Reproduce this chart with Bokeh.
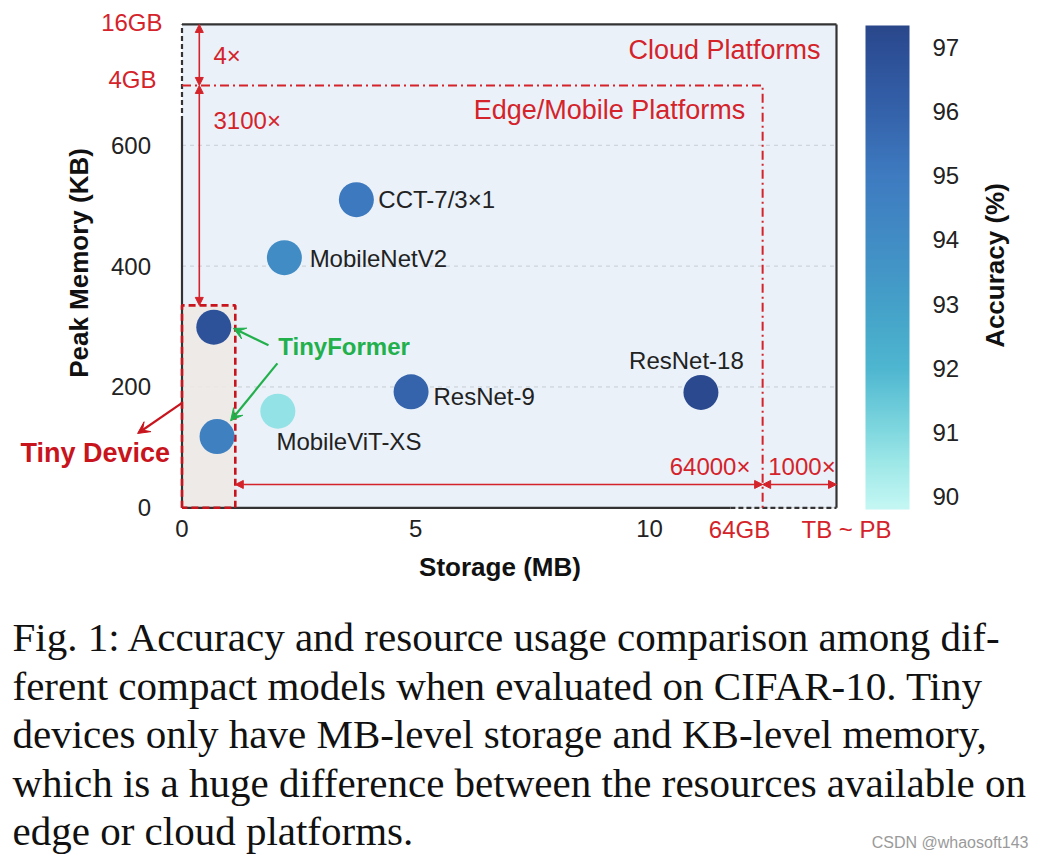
import numpy as np
from bokeh.plotting import figure
from bokeh.models import (Range1d, FixedTicker, Label, Arrow, NormalHead, VeeHead,
                          LinearColorMapper, ColumnDataSource, LinearAxis)
from bokeh.transform import transform
from bokeh.core.properties import value
from bokeh.embed import file_html
from bokeh.resources import INLINE

# ---------------- data ----------------
models = ["TinyFormer (a)", "TinyFormer (b)", "MobileViT-XS", "ResNet-9",
          "ResNet-18", "CCT-7/3×1", "MobileNetV2"]
storage_mb = [0.68, 0.75, 2.05, 4.90, 11.10, 3.73, 2.19]
peak_memory_kb = [299, 118, 160, 192, 191, 510, 414]
accuracy = [96.8, 94.7, 90.7, 95.9, 97.2, 95.1, 94.0]

x_ticks = [0, 5, 10]
y_ticks = [0, 200, 400, 600]
cbar_ticks = [90, 91, 92, 93, 94, 95, 96, 97]

# region boundaries (in axis units)
tiny_storage, tiny_memory = 1.14, 335
edge_storage, edge_memory = 12.42, 699
cloud_storage, cloud_memory = 14.0, 800
solid_x_end, solid_y_end = 11.73, 640

caption_lines = [
    "Fig. 1: Accuracy and resource usage comparison among dif-",
    "ferent compact models when evaluated on CIFAR-10. Tiny",
    "devices only have MB-level storage and KB-level memory,",
    "which is a huge difference between the resources available on",
    "edge or cloud platforms.",
]

# ---------------- style ----------------
FONT = "Liberation Sans"
RED = "#D4232A"
RED2 = "#C8141C"
GREEN = "#22B04C"
DARK = "#222222"
FRAME = "#333333"
W, H = 1043, 857

# pixel mapping of the axes within the canvas
X0_PX, X_SCALE = 181.5, 46.75      # px at 0 MB, px per MB
Y0_PX, Y_SCALE = 507.3, 0.6042     # px at 0 KB, px per KB
ACC97_PX, ACC_SCALE = 47.0, 64.14  # px at 97 %, px per %

CB_LOW, CB_HIGH = 89.797, 97.343
anchors = [(89.797, "#C4F7F4"), (90.5, "#9EE8E8"), (91.0, "#80D8DF"), (92.0, "#4EB6D0"),
           (93.0, "#44A0C8"), (94.0, "#418CC5"), (95.0, "#3E7BC0"), (96.0, "#3462AB"),
           (97.0, "#2C4E95"), (97.343, "#2A478A")]


def hex2rgb(h):
    return np.array([int(h[i:i + 2], 16) for i in (1, 3, 5)], dtype=float)


vals = np.linspace(CB_LOW, CB_HIGH, 256)
av = np.array([a[0] for a in anchors])
ac = np.array([hex2rgb(a[1]) for a in anchors])
palette = []
for v in vals:
    rgb = [np.interp(v, av, ac[:, k]) for k in range(3)]
    palette.append("#%02x%02x%02x" % tuple(int(round(c)) for c in rgb))
mapper = LinearColorMapper(palette=palette, low=CB_LOW, high=CB_HIGH)

xr = Range1d(-X0_PX / X_SCALE, (W - X0_PX) / X_SCALE)
yr = Range1d((Y0_PX - H) / Y_SCALE, Y0_PX / Y_SCALE)

p = figure(width=W, height=H, x_range=xr, y_range=yr,
           output_backend="svg", toolbar_location=None,
           x_axis_location=None, y_axis_location=None, min_border=0)
p.outline_line_color = None
p.background_fill_color = "white"
p.border_fill_color = "white"
p.grid.grid_line_color = None

p.extra_x_ranges = {"px": Range1d(0, W)}
p.extra_y_ranges = {"px": Range1d(H, 0),
                    "acc": Range1d(97 - (H - ACC97_PX) / ACC_SCALE, 97 + ACC97_PX / ACC_SCALE)}

# ---- axes ----
xaxis = LinearAxis(ticker=FixedTicker(ticks=x_ticks), fixed_location=0, bounds=(0, 13.6),
                   axis_label="Storage (MB)")
yaxis = LinearAxis(ticker=FixedTicker(ticks=y_ticks), fixed_location=0, bounds=(0, 810),
                   axis_label="Peak Memory (KB)")
caxis = LinearAxis(ticker=FixedTicker(ticks=cbar_ticks), y_range_name="acc",
                   fixed_location=(909 - X0_PX) / X_SCALE, bounds=(CB_LOW, CB_HIGH))
for ax in (xaxis, yaxis, caxis):
    ax.axis_line_color = None
    ax.major_tick_line_color = None
    ax.minor_tick_line_color = None
    ax.major_label_text_font = FONT
    ax.major_label_text_font_size = "24px"
    ax.major_label_text_color = DARK
    ax.axis_label_text_font = FONT
    ax.axis_label_text_font_size = "26px"
    ax.axis_label_text_font_style = "bold"
    ax.axis_label_text_color = "#111111"
xaxis.major_label_standoff = 6
xaxis.axis_label_standoff = 12
yaxis.major_label_standoff = 25
yaxis.axis_label_standoff = 14
caxis.major_label_standoff = 17
p.add_layout(xaxis, "below")
p.add_layout(yaxis, "left")
p.add_layout(caxis, "right")

# ---- backgrounds ----
p.quad(left=[0], right=[cloud_storage], bottom=[0], top=[cloud_memory],
       fill_color="#EAF1F9", line_color=None)
# horizontal grid lines at the y ticks
p.segment(x0=[0] * len(y_ticks), x1=[cloud_storage] * len(y_ticks), y0=y_ticks, y1=y_ticks,
          line_color="#C9CDD2", line_width=1, line_dash="4 4")
# tiny device fill
p.quad(left=[0], right=[tiny_storage], bottom=[0], top=[tiny_memory],
       fill_color="#EEE9E5", fill_alpha=0.85, line_color=None)

# frame
p.segment(x0=[0, cloud_storage, 0, 0], y0=[cloud_memory, cloud_memory, 0, 0],
          x1=[cloud_storage, cloud_storage, solid_x_end, 0], y1=[cloud_memory, 0, 0, solid_y_end],
          line_color=FRAME, line_width=2.2)
p.segment(x0=[solid_x_end, 0], y0=[0, solid_y_end], x1=[cloud_storage, 0], y1=[0, cloud_memory],
          line_color=FRAME, line_width=2.2, line_dash="5 3")

# edge / mobile region
p.line(x=[0, edge_storage, edge_storage], y=[edge_memory, edge_memory, 0],
       line_color=RED, line_width=2, line_dash="9 4 2 4")

# tiny device outline
p.line(x=[0, 0, tiny_storage, tiny_storage, 0], y=[0, tiny_memory, tiny_memory, 0, 0],
       line_color=RED2, line_width=2.6, line_dash="7 4")

# ---- points ----
src = ColumnDataSource(dict(x=storage_mb, y=peak_memory_kb, acc=accuracy, name=models))
p.scatter("x", "y", source=src, size=35, fill_color=transform("acc", mapper), line_color=None)

# ---- colour bar ----
grad = np.linspace(CB_LOW, CB_HIGH, 256).reshape(256, 1)
cb_left = (865 - X0_PX) / X_SCALE
cb_right = (909 - X0_PX) / X_SCALE
p.image(image=[grad], x=cb_left, y=CB_LOW, dw=cb_right - cb_left, dh=CB_HIGH - CB_LOW,
        color_mapper=mapper, y_range_name="acc")


def dim_arrow(x0, y0, x1, y1):
    p.add_layout(Arrow(start=NormalHead(size=8, fill_color=RED, line_color=RED, line_width=1),
                       end=NormalHead(size=8, fill_color=RED, line_color=RED, line_width=1),
                       x_start=x0, y_start=y0, x_end=x1, y_end=y1,
                       line_color=RED, line_width=1.6))


arrow_x = 0.37
arrow_y = 38.6
dim_arrow(arrow_x, cloud_memory, arrow_x, edge_memory)
dim_arrow(arrow_x, edge_memory, arrow_x, tiny_memory)
dim_arrow(tiny_storage, arrow_y, edge_storage, arrow_y)
dim_arrow(edge_storage, arrow_y, cloud_storage, arrow_y)

for (x0, y0, x1, y1, c) in [(1.85, 269, 1.10, 297, GREEN), (2.04, 239, 1.04, 144, GREEN),
                            (0.01, 174, -0.95, 123, RED2)]:
    p.add_layout(Arrow(end=VeeHead(size=12, fill_color=c, line_color=c, line_width=1),
                       x_start=x0, y_start=y0, x_end=x1, y_end=y1,
                       line_color=c, line_width=2.2))

# labels in axis units
annots = [
    ("4×", 0.674, 749, "left", RED, "normal", "24px"),
    ("3100×", 0.674, 641, "left", RED, "normal", "24px"),
    ("Cloud Platforms", 13.66, 757, "right", RED, "normal", "27px"),
    ("Edge/Mobile Platforms", 12.05, 658, "right", RED, "normal", "27px"),
    ("64000×", 12.16, 68, "right", RED, "normal", "24px"),
    ("1000×", 12.54, 68, "left", RED, "normal", "24px"),
    ("TinyFormer", 2.06, 267, "left", GREEN, "bold", "24px"),
    ("CCT-7/3×1", 4.20, 510, "left", DARK, "normal", "24px"),
    ("MobileNetV2", 2.73, 413, "left", DARK, "normal", "24px"),
    ("ResNet-9", 5.38, 184, "left", DARK, "normal", "24px"),
    ("MobileViT-XS", 2.02, 110, "left", DARK, "normal", "24px"),
    ("ResNet-18", 10.79, 243, "center", DARK, "normal", "24px"),
]
for t, x, y, al, c, st, fs in annots:
    p.add_layout(Label(x=x, y=y, text=t, text_align=al, text_baseline="middle",
                       text_color=c, text_font=FONT, text_font_style=st, text_font_size=fs))

# labels in pixel units (outside the axes area)
px_annots = [
    ("16GB", 162, 22, "right", RED, "normal", "24px", 0),
    ("4GB", 156, 79, "right", RED, "normal", "24px", 0),
    ("64GB", 739, 529, "center", RED, "normal", "24px", 0),
    ("TB ~ PB", 846, 529, "center", RED, "normal", "24px", 0),
    ("Tiny Device", 20, 452, "left", RED2, "bold", "27px", 0),
    ("Accuracy (%)", 994, 265, "center", "#111111", "bold", "26px", np.pi / 2),
]
for t, x, y, al, c, st, fs, ang in px_annots:
    p.add_layout(Label(x=x, y=y, x_range_name="px", y_range_name="px", text=t, text_align=al,
                       text_baseline="middle", text_color=c, text_font=FONT,
                       text_font_style=st, text_font_size=fs, angle=ang))

# caption
p.text(x=[12] * 5, y=[636, 685, 733, 782, 830], text=caption_lines,
       x_range_name="px", y_range_name="px",
       text_font=value("Liberation Serif"), text_font_size="41px",
       text_baseline="alphabetic", text_color="#111111")
p.text(x=[1028], y=[842], text=["CSDN @whaosoft143"], x_range_name="px", y_range_name="px",
       text_font=value(FONT), text_font_size="16px", text_align="right",
       text_baseline="middle", text_color="#9a9a9a")

open("out.html", "w").write(file_html(p, INLINE))
